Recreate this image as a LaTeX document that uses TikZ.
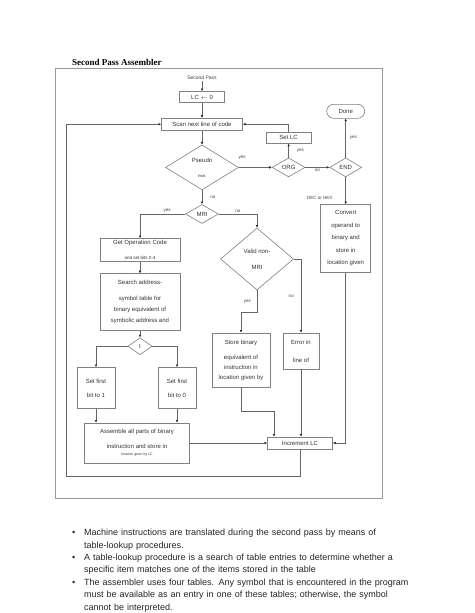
\documentclass[tikz,border=0pt]{standalone}
\usepackage{fontspec}
\setmainfont{Liberation Sans}
\newfontfamily\titlefont{Liberation Serif}
\usetikzlibrary{arrows.meta,positioning,shapes.geometric}

\begin{document}
\begin{tikzpicture}[x=1pt, y=-1pt,
    box/.style={draw=black!50, line width=0.6pt, inner sep=1pt, align=center, font=\fontsize{6}{11}\selectfont, text=black!80},
    dec/.style={diamond, draw=black!50, line width=0.6pt, inner sep=0pt, align=center, font=\fontsize{6}{11}\selectfont, text=black!80},
    lbl/.style={font=\fontsize{4.5}{5}\selectfont, text=black!75, inner sep=1pt},
    arr/.style={draw=black!60, line width=0.5pt, -{Latex[length=2.6pt, width=2.6pt, color=black!85]}}
  ]
    \path[fill=white] (0,0) rectangle (474,613);
    \useasboundingbox (0,0) rectangle (474,613);

    \node[anchor=base west, inner sep=0pt, font=\titlefont\bfseries\fontsize{9}{10}\selectfont] (title) at (72,65) {Second Pass Assembler};
    \draw[black!40, line width=0.9pt] (55,68) rectangle (382,498);

    % main column
    \node[lbl, font=\fontsize{5}{6}\selectfont] (start) at (202,78) {Second Pass};
    \node[box, minimum width=45pt, minimum height=11pt] (lc) at (202,97) {LC $\leftarrow$ 0};
    \node[box, line width=0.8pt, minimum width=81pt, minimum height=12pt, below=15pt of lc] (scan) {Scan next line of code};
    \node[dec, minimum width=73pt, minimum height=45pt, below=14pt of scan] (ispseudo) {Pseudo\\[4pt]{\fontsize{4}{5}\selectfont instr.}};
    \node[dec, minimum width=33pt, minimum height=19pt, right=33pt of ispseudo] (isorg) {ORG};
    \node[box, minimum width=45pt, minimum height=11pt, above=14pt of isorg] (setlc) {Set LC};
    \node[dec, minimum width=32pt, minimum height=19pt, right=24pt of isorg] (isend) {END};
    \node[box, rounded corners=7pt, minimum width=38pt, minimum height=14pt, above=39pt of isend] (done) {Done};
    \node[box, minimum width=50pt, minimum height=68pt, below=27pt of isend, font=\fontsize{6}{12.5}\selectfont] (conv) {Convert\\operand to\\binary and\\store in\\location given};
    \node[dec, minimum width=33pt, minimum height=19pt, below=14pt of ispseudo] (ismri) {MRI};

    % MRI branch
    \node[box, minimum width=80pt, minimum height=23pt] (getop) at (140,250) {Get Operation Code\\[4pt]{\fontsize{4.5}{5}\selectfont and set bits 2-4}};
    \node[box, minimum width=80pt, minimum height=57pt, below=11.5pt of getop] (search) {Search address-\\[5pt]symbol table for\\binary equivalent of\\symbolic address and};
    \node[dec, minimum width=24pt, minimum height=17pt, below=6.5pt of search] (isind) {I};
    \node[box, line width=0.8pt, minimum width=38pt, minimum height=41pt] (setone) at (96,388) {Set first\\[3pt]bit to 1};
    \node[box, line width=0.8pt, minimum width=38pt, minimum height=41pt] (setzero) at (177,388) {Set first\\[3pt]bit to 0};
    \node[box, minimum width=105pt, minimum height=40pt] (asm) at (137,443) {Assemble all parts of binary\\[4pt]instruction and store in\\[-4pt]{\fontsize{3.5}{4}\selectfont location given by LC}};

    % non-MRI branch
    \node[dec, minimum width=73pt, minimum height=62pt] (isvalid) at (257,259) {Valid non-\\[5pt]MRI};
    \node[box, minimum width=58pt, minimum height=54pt] (store) at (241,360) {Store binary\\[4pt]equivalent of\\[-1pt]instruction in\\[-1pt]location given by};
    \node[box, minimum width=36pt, minimum height=36pt] (err) at (301,351) {Error in\\[7pt]line of};
    \node[box, line width=0.8pt, minimum width=65pt, minimum height=12pt] (inc) at (300,443) {Increment LC};
    \coordinate (loopc) at (66,476);

    \draw[arr] (start) -- (lc);
    \draw[arr] (lc) -- (scan);
    \draw[arr] (scan) -- (ispseudo);
    \draw[arr] (ispseudo) -- node[lbl, pos=0.1, above=7pt] {yes} (isorg);
    \draw[arr] (isorg) -- node[lbl, right=7pt] {yes} (setlc);
    \draw[arr] (setlc.north) |- (scan.east);
    \draw[arr] (isorg) -- node[lbl, below] {no} (isend);
    \draw[arr] (isend) -- node[lbl, right=3pt] {yes} (done);
    \draw[arr] (isend) -- node[lbl, left=12pt, pos=0.75] {DEC or HEX} (conv);
    \draw[arr] (conv.south) |- (inc.east);
    \draw[arr] (ispseudo) -- node[lbl, right=7pt] {no} (ismri);
    \draw[arr] (ismri.west) -| node[lbl, above, pos=0.2] {yes} (getop.north);
    \draw[arr] (ismri.east) -| node[lbl, above, pos=0.25] {no} (isvalid.north);
    \draw[arr] (getop) -- (search);
    \draw[arr] (search) -- (isind);
    \draw[arr] (isind.west) -| (setone.north);
    \draw[arr] (isind.east) -| (setzero.north);
    \draw[arr] (setone.south) -- (setone.south |- asm.north);
    \draw[arr] (setzero.south) -- (setzero.south |- asm.north);
    \draw[arr] (asm) -- (inc);
    \draw[arr] (isvalid.south) -- node[lbl, left=5pt] {yes} ++(0,22) -| (store.north);
    \draw[arr] (isvalid.east) -| node[lbl, left=6pt, pos=0.75] {no} (err.north);
    \draw[arr] (store.south) -- ++(0,24) -| ([xshift=-26pt]inc.north);
    \draw[arr] (err.south) -- (err.south |- inc.north);
    \draw[arr] (inc.south) |- (loopc) |- (scan.west);

    % notes below the chart
    \node[anchor=north west, text width=338pt, inner sep=0pt, font=\fontsize{9}{12.4}\selectfont, text=black!85] (notes) at (72,529) {%
      \hyphenpenalty=10000 \emergencystretch=2em
      \hangindent=12pt\hangafter=1\noindent\makebox[12pt][l]{\textbullet}Machine instructions are translated during the second pass by means of\newline table-lookup procedures.\par
      \hangindent=12pt\hangafter=1\noindent\makebox[12pt][l]{\textbullet}A table-lookup procedure is a search of table entries to determine whether a\linebreak specific item matches one of the items stored in the table\par
      \hangindent=12pt\hangafter=1\noindent\makebox[12pt][l]{\textbullet}The assembler uses four tables. Any symbol that is encountered in the program\linebreak must be available as an entry in one of these tables; otherwise, the symbol\linebreak cannot be interpreted.\par};
\end{tikzpicture}
\end{document}
